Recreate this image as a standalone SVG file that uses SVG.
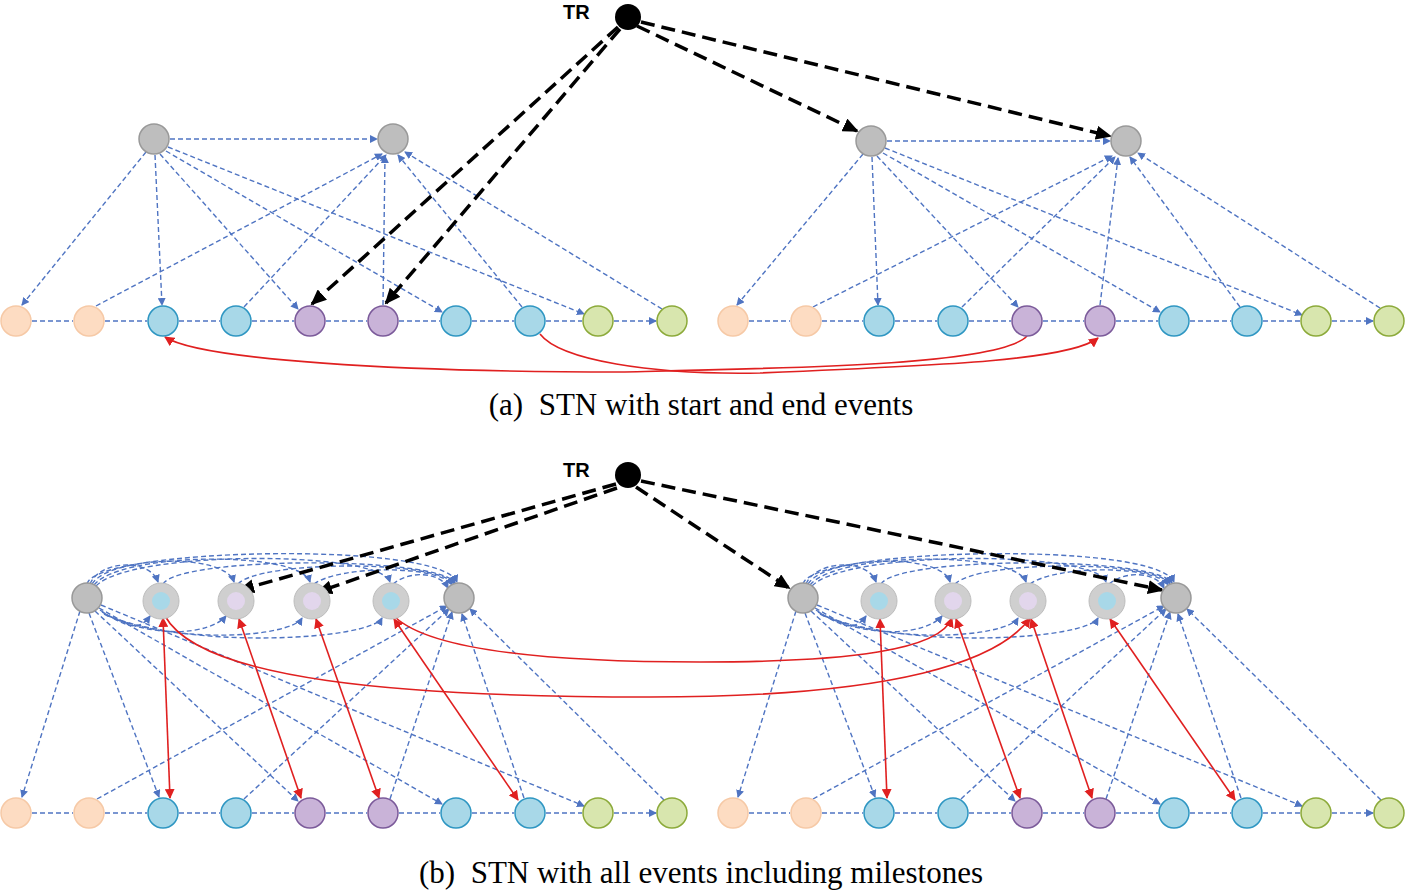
<svg xmlns="http://www.w3.org/2000/svg" width="1408" height="891" viewBox="0 0 1408 891">
<style>
.b{fill:none;stroke:#4F74C2;stroke-width:1.4;stroke-dasharray:5,3;marker-end:url(#ab)}
.k{fill:none;stroke:#000;stroke-width:3.5;stroke-dasharray:14,7;marker-end:url(#ak)}
.r{fill:none;stroke:#E02020;stroke-width:1.6;marker-end:url(#ar)}
.rr{fill:none;stroke:#E02020;stroke-width:1.6;marker-end:url(#ar);marker-start:url(#ars)}
.pe{fill:#FDDCC2;stroke:#F6C9A6;stroke-width:1.5}
.bl{fill:#A8D8E8;stroke:#2E96C2;stroke-width:1.5}
.pu{fill:#C9B3D8;stroke:#7B5A9A;stroke-width:1.5}
.gr{fill:#D8E6AE;stroke:#8CAA3A;stroke-width:1.5}
.gy{fill:#BEBEBE;stroke:#999;stroke-width:1.5}
.ha{fill:#CFCFCF;stroke:#BDBDBD;stroke-width:1}
.ib{fill:#A8D8E8}
.ip{fill:#E2D6EC}
.tr{fill:#000}
.lbl{font-family:"Liberation Sans",Arial,sans-serif;font-weight:bold;font-size:20px}
.cap{font-family:"Liberation Serif","Times New Roman",serif;font-size:31px;text-anchor:middle}
</style>
<defs>
<marker id="ab" markerWidth="8" markerHeight="8" refX="7" refY="4" orient="auto" markerUnits="userSpaceOnUse"><path d="M0,0L8,4L0,8z" fill="#4F74C2"/></marker>
<marker id="ak" markerWidth="16" markerHeight="14" refX="14" refY="7" orient="auto" markerUnits="userSpaceOnUse"><path d="M0,0L16,7L0,14z" fill="#000"/></marker>
<marker id="ar" markerWidth="10" markerHeight="10" refX="9" refY="5" orient="auto" markerUnits="userSpaceOnUse"><path d="M0,0L10,5L0,10z" fill="#E02020"/></marker>
<marker id="ars" markerWidth="10" markerHeight="10" refX="1" refY="5" orient="auto" markerUnits="userSpaceOnUse"><path d="M10,0L0,5L10,10z" fill="#E02020"/></marker>
</defs>

<g id="connectors">
<path class="b" d="M32,321H73M105,321H147M179,321H220M252,321H294M326,321H367M399,321H440M472,321H514M546,321H582M614,321H656"/>
<path class="b" d="M749,321H790M822,321H863M895,321H937M969,321H1011M1043,321H1084M1116,321H1158M1190,321H1231M1263,321H1300M1332,321H1373"/>
<path class="b" d="M170,139H377"/>
<path class="b" d="M146,152L22,305"/><path class="b" d="M155,155L162,305"/><path class="b" d="M160,154L298,309"/><path class="b" d="M166,151L442,312"/><path class="b" d="M168,147L584,314"/>
<path class="b" d="M96,306L382,154"/><path class="b" d="M244,307L386,155"/><path class="b" d="M383,305L385,156"/><path class="b" d="M522,307L398,155"/><path class="b" d="M662,309L405,152"/>
<path class="b" d="M887,141H1110"/>
<path class="b" d="M863,154L737,305"/><path class="b" d="M872,157L878,305"/><path class="b" d="M877,156L1018,307"/><path class="b" d="M883,153L1160,312"/><path class="b" d="M885,148L1302,315"/>
<path class="b" d="M813,307L1112,156"/><path class="b" d="M962,307L1115,157"/><path class="b" d="M1100,305L1118,158"/><path class="b" d="M1240,307L1130,157"/><path class="b" d="M1380,308L1138,153"/>
<path class="k" d="M618,27L312,304"/><path class="k" d="M620,29L386,303"/><path class="k" d="M637,26L857,131"/><path class="k" d="M641,22L1110,136"/>
<path class="r" d="M1027,336C1000,365 800,368 620,372C400,372 200,360 165,337"/>
<path class="r" d="M540,334C560,360 650,375 760,373C950,365 1070,360 1098,338"/>

<path class="b" d="M32,813H73M105,813H147M179,813H220M252,813H294M326,813H367M399,813H440M472,813H514M546,813H582M614,813H656"/>
<path class="b" d="M749,813H790M822,813H863M895,813H937M969,813H1011M1043,813H1084M1116,813H1158M1190,813H1231M1263,813H1300M1332,813H1373"/>
<path class="b" d="M87,584C95,548 440,540 457,582"/>
<path class="b" d="M90,584C100,560 150,558 158,582"/>
<path class="b" d="M92,584C110,556 225,552 234,582"/>
<path class="b" d="M94,585C120,552 300,550 310,582"/>
<path class="b" d="M96,586C130,550 380,550 390,582"/>
<path class="b" d="M163,584C180,556 440,556 455,583"/>
<path class="b" d="M238,584C260,560 440,560 454,584"/>
<path class="b" d="M314,584C340,565 440,565 452,585"/>
<path class="b" d="M393,584C410,570 440,572 448,588"/>
<path class="b" d="M100,610C130,630 140,630 150,616"/>
<path class="b" d="M102,612C150,640 210,635 226,616"/>
<path class="b" d="M104,614C170,645 290,638 302,618"/>
<path class="b" d="M106,615C190,650 370,640 382,618"/>
<path class="b" d="M803,584C811,548 1156,540 1174,582"/>
<path class="b" d="M806,584C816,560 868,558 876,582"/>
<path class="b" d="M808,584C826,556 942,552 950,582"/>
<path class="b" d="M810,585C836,552 1016,550 1026,582"/>
<path class="b" d="M812,586C846,550 1096,550 1106,582"/>
<path class="b" d="M881,584C898,556 1156,556 1172,583"/>
<path class="b" d="M955,584C978,560 1156,560 1170,584"/>
<path class="b" d="M1030,584C1056,565 1156,565 1168,585"/>
<path class="b" d="M1109,584C1126,570 1156,572 1164,588"/>
<path class="b" d="M816,610C846,630 856,630 866,616"/>
<path class="b" d="M818,612C866,640 926,635 942,616"/>
<path class="b" d="M820,614C886,645 1006,638 1018,618"/>
<path class="b" d="M822,615C906,650 1086,640 1098,618"/>
<path class="b" d="M80,611L22,797"/><path class="b" d="M89,613L159,797"/><path class="b" d="M95,611L298,801"/><path class="b" d="M99,608L442,804"/><path class="b" d="M101,605L584,806"/>
<path class="b" d="M97,799L447,606"/><path class="b" d="M244,799L449,609"/><path class="b" d="M390,799L452,612"/><path class="b" d="M524,798L462,614"/><path class="b" d="M664,800L470,609"/>
<path class="b" d="M796,611L738,797"/><path class="b" d="M805,613L875,797"/><path class="b" d="M811,611L1015,801"/><path class="b" d="M815,608L1160,804"/><path class="b" d="M817,605L1302,806"/>
<path class="b" d="M813,799L1164,606"/><path class="b" d="M961,799L1166,609"/><path class="b" d="M1106,799L1170,612"/><path class="b" d="M1241,798L1178,614"/><path class="b" d="M1381,800L1187,609"/>
<path class="k" d="M616,484L240,590"/><path class="k" d="M617,488L318,592"/><path class="k" d="M636,487L789,588"/><path class="k" d="M641,481L1162,590"/>
<path class="rr" d="M163,618L170,798"/><path class="rr" d="M239,619L301,798"/><path class="rr" d="M316,619L379,798"/><path class="rr" d="M394,619L518,800"/>
<path class="rr" d="M880,619L887,798"/><path class="rr" d="M956,619L1020,798"/><path class="rr" d="M1031,619L1092,798"/><path class="rr" d="M1110,619L1235,800"/>
<path class="r" d="M165,616C200,680 400,697 650,697C900,697 1000,660 1030,618"/>
<path class="r" d="M395,617C430,650 550,662 700,662C850,662 940,650 952,618"/>
</g>

<g id="a-nodes">
<g id="a-tr"><circle class="tr" cx="628" cy="17" r="13"/><text class="lbl" x="563" y="19">TR</text></g>
<g id="a-g1"><circle class="gy" cx="154" cy="139" r="15"/></g>
<g id="a-g2"><circle class="gy" cx="393" cy="139" r="15"/></g>
<g id="a-g3"><circle class="gy" cx="871" cy="141" r="15"/></g>
<g id="a-g4"><circle class="gy" cx="1126" cy="141" r="15"/></g>
<g id="a-n1"><circle class="pe" cx="16" cy="321" r="15"/></g>
<g id="a-n2"><circle class="pe" cx="89" cy="321" r="15"/></g>
<g id="a-n3"><circle class="bl" cx="163" cy="321" r="15"/></g>
<g id="a-n4"><circle class="bl" cx="236" cy="321" r="15"/></g>
<g id="a-n5"><circle class="pu" cx="310" cy="321" r="15"/></g>
<g id="a-n6"><circle class="pu" cx="383" cy="321" r="15"/></g>
<g id="a-n7"><circle class="bl" cx="456" cy="321" r="15"/></g>
<g id="a-n8"><circle class="bl" cx="530" cy="321" r="15"/></g>
<g id="a-n9"><circle class="gr" cx="598" cy="321" r="15"/></g>
<g id="a-n10"><circle class="gr" cx="672" cy="321" r="15"/></g>
<g id="a-n11"><circle class="pe" cx="733" cy="321" r="15"/></g>
<g id="a-n12"><circle class="pe" cx="806" cy="321" r="15"/></g>
<g id="a-n13"><circle class="bl" cx="879" cy="321" r="15"/></g>
<g id="a-n14"><circle class="bl" cx="953" cy="321" r="15"/></g>
<g id="a-n15"><circle class="pu" cx="1027" cy="321" r="15"/></g>
<g id="a-n16"><circle class="pu" cx="1100" cy="321" r="15"/></g>
<g id="a-n17"><circle class="bl" cx="1174" cy="321" r="15"/></g>
<g id="a-n18"><circle class="bl" cx="1247" cy="321" r="15"/></g>
<g id="a-n19"><circle class="gr" cx="1316" cy="321" r="15"/></g>
<g id="a-n20"><circle class="gr" cx="1389" cy="321" r="15"/></g>
</g>
<text class="cap" x="701" y="415" xml:space="preserve">(a)  STN with start and end events</text>

<g id="b-nodes">
<g id="b-tr"><circle class="tr" cx="628" cy="475" r="13"/><text class="lbl" x="563" y="477">TR</text></g>
<g id="b-g1"><circle class="gy" cx="87" cy="598" r="15"/></g>
<g id="b-g2"><circle class="gy" cx="459" cy="598" r="15"/></g>
<g id="b-g3"><circle class="gy" cx="803" cy="598" r="15"/></g>
<g id="b-g4"><circle class="gy" cx="1176" cy="598" r="15"/></g>
<g id="b-m1"><circle class="ha" cx="161" cy="601" r="18"/><circle class="ib" cx="161" cy="601" r="9"/></g>
<g id="b-m2"><circle class="ha" cx="236" cy="601" r="18"/><circle class="ip" cx="236" cy="601" r="9"/></g>
<g id="b-m3"><circle class="ha" cx="312" cy="601" r="18"/><circle class="ip" cx="312" cy="601" r="9"/></g>
<g id="b-m4"><circle class="ha" cx="391" cy="601" r="18"/><circle class="ib" cx="391" cy="601" r="9"/></g>
<g id="b-m5"><circle class="ha" cx="879" cy="601" r="18"/><circle class="ib" cx="879" cy="601" r="9"/></g>
<g id="b-m6"><circle class="ha" cx="953" cy="601" r="18"/><circle class="ip" cx="953" cy="601" r="9"/></g>
<g id="b-m7"><circle class="ha" cx="1028" cy="601" r="18"/><circle class="ip" cx="1028" cy="601" r="9"/></g>
<g id="b-m8"><circle class="ha" cx="1107" cy="601" r="18"/><circle class="ib" cx="1107" cy="601" r="9"/></g>
<g id="b-n1"><circle class="pe" cx="16" cy="813" r="15"/></g>
<g id="b-n2"><circle class="pe" cx="89" cy="813" r="15"/></g>
<g id="b-n3"><circle class="bl" cx="163" cy="813" r="15"/></g>
<g id="b-n4"><circle class="bl" cx="236" cy="813" r="15"/></g>
<g id="b-n5"><circle class="pu" cx="310" cy="813" r="15"/></g>
<g id="b-n6"><circle class="pu" cx="383" cy="813" r="15"/></g>
<g id="b-n7"><circle class="bl" cx="456" cy="813" r="15"/></g>
<g id="b-n8"><circle class="bl" cx="530" cy="813" r="15"/></g>
<g id="b-n9"><circle class="gr" cx="598" cy="813" r="15"/></g>
<g id="b-n10"><circle class="gr" cx="672" cy="813" r="15"/></g>
<g id="b-n11"><circle class="pe" cx="733" cy="813" r="15"/></g>
<g id="b-n12"><circle class="pe" cx="806" cy="813" r="15"/></g>
<g id="b-n13"><circle class="bl" cx="879" cy="813" r="15"/></g>
<g id="b-n14"><circle class="bl" cx="953" cy="813" r="15"/></g>
<g id="b-n15"><circle class="pu" cx="1027" cy="813" r="15"/></g>
<g id="b-n16"><circle class="pu" cx="1100" cy="813" r="15"/></g>
<g id="b-n17"><circle class="bl" cx="1174" cy="813" r="15"/></g>
<g id="b-n18"><circle class="bl" cx="1247" cy="813" r="15"/></g>
<g id="b-n19"><circle class="gr" cx="1316" cy="813" r="15"/></g>
<g id="b-n20"><circle class="gr" cx="1389" cy="813" r="15"/></g>
</g>
<text class="cap" x="701" y="883" xml:space="preserve">(b)  STN with all events including milestones</text>
</svg>
